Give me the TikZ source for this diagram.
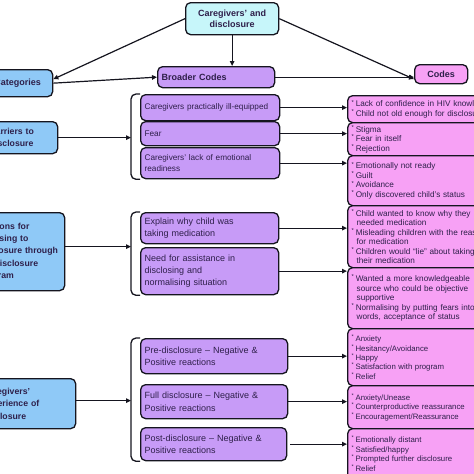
\documentclass[tikz,border=0pt]{standalone}
\usepackage{fontspec}
\setmainfont{Liberation Sans}
\usetikzlibrary{arrows.meta}
\definecolor{edge}{HTML}{15151F}
\definecolor{ink}{HTML}{2E1F4A}
\definecolor{topcyan}{HTML}{C7F6FA}
\definecolor{catblue}{HTML}{8FC9F7}
\definecolor{broadpurple}{HTML}{C79BF7}
\definecolor{codepink}{HTML}{F7A1F5}
\newcommand\itm{\textsuperscript{*}\,}
\newcommand\ind{\hspace*{5pt}}
\tikzset{
  box/.style={draw=edge, line width=1.3pt, rounded corners=5pt, anchor=north west,
    inner xsep=4pt, inner ysep=1pt, text=ink, align=left},
  headbox/.style={box, font=\fontsize{9}{11}\selectfont\bfseries},
  catbox/.style={box, fill=catblue, font=\fontsize{8.7}{12.3}\selectfont\bfseries},
  broadbox/.style={box, fill=broadpurple, font=\fontsize{9}{12.3}\selectfont},
  smallbroad/.style={broadbox, font=\fontsize{8.2}{11}\selectfont},
  codebox/.style={box, fill=codepink, text width=165pt, font=\fontsize{8.2}{9.5}\selectfont},
  smallcode/.style={codebox, font=\fontsize{7.8}{9.4}\selectfont},
  arr/.style={draw=edge, line width=1.2pt, -{Triangle[length=5pt,width=4.5pt]}},
  bracket/.style={draw=edge, line width=1.3pt, rounded corners=5pt},
}
\begin{document}
\begin{tikzpicture}[x=1pt,y=-1pt]
\useasboundingbox (0,0) rectangle (474,474);
\clip (0,0) rectangle (474,474);

% headings
\node[headbox, fill=topcyan, align=center, text width=85pt, minimum height=32pt] (top) at (185,2) {Caregivers' and\\disclosure};
\node[headbox, fill=broadpurple, text width=109pt, minimum height=21pt] (broad) at (157,66) {Broader Codes};
\node[headbox, fill=codepink, align=center, text width=45pt, minimum height=19pt] (codes) at (414,64) {Codes};
\node[headbox, fill=catblue, align=center, text width=62pt, minimum height=27pt] (cat) at (-18,69) {Categories};

\draw[arr] (top.west) -- ([yshift=4pt]cat.east);
\draw[arr] (top.south) -- (top.south |- broad.north);
\draw[arr] (top.east) -- ([yshift=-5pt]codes.west);
\draw[arr] (cat.east) -- (broad.west);
\draw[arr] (broad.east) -- (broad.east -| codes.west);

% barriers
\node[catbox, align=center, text width=84pt, minimum height=32pt] (bar) at (-35,121) {Barriers to\\disclosure};
\node[smallbroad, text width=131pt, minimum height=26pt] (b1) at (140,94) {Caregivers practically ill-equipped};
\node[smallbroad, text width=131pt, minimum height=24pt] (b2) at (140,121) {Fear};
\node[smallbroad, text width=131pt, minimum height=31pt] (b3) at (140,147) {Caregivers' lack of emotional\\readiness};
\node[codebox, minimum height=27pt] (c1) at (347,95) {\itm Lack of confidence in HIV knowledge\\\itm Child not old enough for disclosure};
\node[codebox, minimum height=33pt] (c2) at (347,122) {\itm Stigma\\\itm Fear in itself\\\itm Rejection};
\node[codebox, minimum height=50pt] (c3) at (347,155) {\itm Emotionally not ready\\\itm Guilt\\\itm Avoidance\\\itm Only discovered child's status};

\coordinate (k1) at ([xshift=-9pt]b1.north west);
\draw[bracket] (b1.north west) -| (k1 |- b3.south west) -- (b3.south west);
\draw[arr] (bar.east) -- (bar.east -| k1);
\draw[arr] (b1.east) -- (b1.east -| c1.west);
\draw[arr] (b2.east) -- (b2.east -| c2.west);
\draw[arr] (b3.east) -- (b3.east -| c3.west);

% reasons
\node[catbox, text width=82pt, minimum height=78pt] (rea) at (-26,212) {Reasons for\\choosing to\\disclosure through\\the disclosure\\program};
\node[broadbox, text width=130pt, minimum height=31pt] (b4) at (140,212) {Explain why child was\\taking medication};
\node[broadbox, text width=130pt, minimum height=47pt] (b5) at (140,247) {Need for assistance in\\disclosing and\\normalising situation};
\node[codebox, minimum height=62pt] (c4) at (347,205) {\itm Child wanted to know why they\\\ind needed medication\\\itm Misleading children with the reasons\\\ind for medication\\\itm Children would “lie” about taking\\\ind their medication};
\node[codebox, minimum height=61pt] (c5) at (347,267) {\itm Wanted a more knowledgeable\\\ind source who could be objective\\\ind supportive\\\itm Normalising by putting fears into\\\ind words, acceptance of status};

\coordinate (k2) at ([xshift=-9pt]b4.north west);
\draw[bracket] (b4.north west) -| (k2 |- b5.south west) -- (b5.south west);
\draw[arr] ([yshift=5pt]rea.east) -- ([yshift=5pt]rea.east -| k2);
\draw[arr] (b4.east) -- (b4.east -| c4.west);
\draw[arr] (b5.east) -- (b5.east -| c5.west);

% experience
\node[catbox, text width=89pt, minimum height=50pt] (exp) at (-22,378) {Caregivers'\\experience of\\disclosure};
\node[broadbox, text width=139pt, minimum height=35pt] (b6) at (140,338) {Pre-disclosure – Negative \&\\Positive reactions};
\node[broadbox, text width=139pt, minimum height=34pt] (b7) at (140,384) {Full disclosure – Negative \&\\Positive reactions};
\node[broadbox, text width=138pt, minimum height=33pt] (b8) at (140,427) {Post-disclosure – Negative \&\\Positive reactions};
\node[smallcode, minimum height=57pt] (c6) at (347,328) {\itm Anxiety\\\itm Hesitancy/Avoidance\\\itm Happy\\\itm Satisfaction with program\\\itm Relief};
\node[smallcode, minimum height=43pt] (c7) at (347,385) {\itm Anxiety/Unease\\\itm Counterproductive reassurance\\\itm Encouragement/Reassurance};
\node[smallcode, minimum height=50pt] (c8) at (347,428) {\itm Emotionally distant\\\itm Satisfied/happy\\\itm Prompted further disclosure\\\itm Relief};

\coordinate (k3) at ([xshift=-9pt]b6.north west);
\draw[bracket] (b6.north west) -| (k3 |- b8.south west) -- (b8.south west);
\draw[arr] ([yshift=3pt]exp.east) -- ([yshift=3pt]exp.east -| k3);
\draw[arr] (b6.east) -- (b6.east -| c6.west);
\draw[arr] (b7.east) -- (b7.east -| c7.west);
\draw[arr, shorten <=3pt] (b8.east) -- (b8.east -| c8.west);
\end{tikzpicture}
\end{document}
